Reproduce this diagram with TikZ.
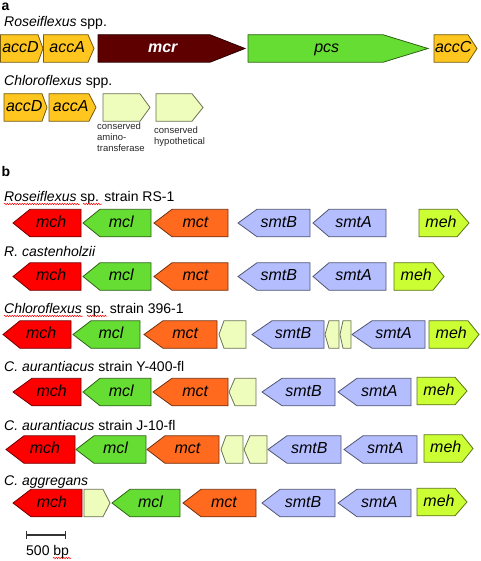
\documentclass[tikz,border=0pt]{standalone}
\usepackage{fontspec}
\setmainfont{Liberation Sans}
\usetikzlibrary{arrows.meta,decorations.pathmorphing}

\definecolor{accD}{HTML}{FFC61F}
\definecolor{accA}{HTML}{FFC61F}
\definecolor{accC}{HTML}{FFC61F}
\definecolor{mcr}{HTML}{5E0000}
\definecolor{pcs}{HTML}{66DD33}
\definecolor{hypo}{HTML}{EEFDBB}
\definecolor{mch}{HTML}{FF0000}
\definecolor{mcl}{HTML}{66DD33}
\definecolor{mct}{HTML}{FF6A1E}
\definecolor{smtB}{HTML}{B4BEFF}
\definecolor{smtA}{HTML}{B4BEFF}
\definecolor{meh}{HTML}{CCFF33}

\pgfmathsetmacro{\halfh}{13.75}

\tikzset{
    genetext/.style={font=\fontsize{16}{18}\selectfont\itshape, inner sep=0pt, text height=11pt, text depth=3pt},
    rowlabel/.style={font=\fontsize{14}{16}\selectfont, anchor=base west, inner sep=0pt},
    panel/.style={rowlabel, font=\fontsize{14}{16}\selectfont\bfseries},
    notetext/.style={font=\fontsize{9.5}{11}\selectfont, text=black!85, anchor=north west, inner sep=0pt, align=left},
    spell/.style={red, line width=0.5pt, decorate, decoration={snake, amplitude=0.7pt, segment length=2.5pt}}
}

% gene boxes: colour, y, then x of flat end / body end / tip
\newcommand{\geneboxr}[5]{%
    \filldraw[fill=#1, draw=#1!45!black, line width=0.8pt, line join=miter]
        (#3,#2-\halfh) -- (#4,#2-\halfh) -- (#5,#2) -- (#4,#2+\halfh) -- (#3,#2+\halfh) -- cycle;
}
\newcommand{\geneboxl}[5]{%
    \filldraw[fill=#1, draw=#1!45!black, line width=0.8pt, line join=miter]
        (#3,#2) -- (#4,#2-\halfh) -- (#5,#2-\halfh) -- (#5,#2+\halfh) -- (#4,#2+\halfh) -- cycle;
}
% named genes: name, colour, y, x values, label
\newcommand{\generight}[7]{%
    \geneboxr{#2}{#3}{#4}{#5}{#6}
    \node[genetext] (#1) at ({(2*#4+#5+#6)/4},#3) {#7};
}
\newcommand{\geneleft}[7]{%
    \geneboxl{#2}{#3}{#4}{#5}{#6}
    \node[genetext] (#1) at ({(#4+#5+2*#6)/4},#3) {#7};
}

\begin{document}
\begin{tikzpicture}[x=1pt, y=-1pt]
            \useasboundingbox (0,0) rectangle (480,561);

            % panel a
            \node[panel] (pa) at (1.5,11) {a};
            \node[rowlabel] (rosa) at (4,27) {\textit{Roseiflexus} spp.};
            \foreach \n/\s/\b/\t in {accD/0.5/38/43, accA/43.5/88/94, pcs/248/383/428, accC/434/468/477}{
                \generight{a1\n}{\n}{48.5}{\s}{\b}{\t}{\n}
            }
            \generight{a1mcr}{mcr}{48.5}{98}{210}{245}{\textcolor{white}{\bfseries mcr}}

            \node[rowlabel] (chla) at (4,86) {\textit{Chloroflexus} spp.};
            \foreach \n/\s/\b/\t in {accD/4/42/47, accA/49/89/96}{
                \generight{a2\n}{\n}{107.5}{\s}{\b}{\t}{\n}
            }
            \geneboxr{hypo}{107.5}{103}{140}{150}
            \geneboxr{hypo}{107.5}{156}{192}{203}
            \node[notetext] (amino) at (97,122) {conserved\\amino-\\transferase};
            \node[notetext] (hypnote) at (154,126) {conserved\\hypothetical};

            % panel b
            \node[panel] (pb) at (1.5,177) {b};
            \node[rowlabel] (rs1) at (4,201.5) {\textit{Roseiflexus} sp. strain RS-1};
            \node[rowlabel] (cast) at (4,256.5) {\textit{R. castenholzii}};
            \foreach \r/\y in {1/223, 2/276.5}{
                \foreach \n/\t/\b/\e in {mch/13/30/81, mcl/83/100/151, mct/154/172/228, smtB/238/257/310, smtA/313/329/386}{
                    \geneleft{b\r\n}{\n}{\y}{\t}{\b}{\e}{\n}
                }
            }
            \generight{b1meh}{meh}{223}{419}{457}{469}{meh}
            \generight{b2meh}{meh}{276.5}{394}{433}{444}{meh}

            \node[rowlabel] (c396) at (4,313.5) {\textit{Chloroflexus} sp. strain 396-1};
            \foreach \n/\t/\b/\e in {mch/3/20/71, mcl/73/91/140, mct/144/163/217, smtB/252/272/324, smtA/352/372/425}{
                \geneleft{b3\n}{\n}{334.5}{\t}{\b}{\e}{\n}
            }
            \foreach \t/\b/\e in {219/224/246, 325/329/339, 340/343/351}{
                \geneboxl{hypo}{334.5}{\t}{\b}{\e}
            }
            \generight{b3meh}{meh}{334.5}{429}{468}{479}{meh}

            \node[rowlabel] (y400) at (4,371.5) {\textit{C. aurantiacus} strain Y-400-fl};
            \foreach \n/\t/\b/\e in {mch/13/32/81, mcl/83/100/151, mct/153/172/228, smtB/262/282/335, smtA/338/357/411}{
                \geneleft{b4\n}{\n}{392}{\t}{\b}{\e}{\n}
            }
            \geneboxl{hypo}{392}{229}{235}{256}
            \generight{b4meh}{meh}{391}{417}{455}{467}{meh}

            \node[rowlabel] (j10) at (4,430.5) {\textit{C. aurantiacus} strain J-10-fl};
            \foreach \n/\t/\b/\e in {mch/6/24/75, mcl/76/94/146, mct/147/165/219, smtB/268/287/341, smtA/344/363/417}{
                \geneleft{b5\n}{\n}{449.5}{\t}{\b}{\e}{\n}
            }
            \foreach \t/\b/\e in {221/226/243, 244/250/267}{
                \geneboxl{hypo}{449.5}{\t}{\b}{\e}
            }
            \generight{b5meh}{meh}{448.5}{424}{462}{473}{meh}

            \node[rowlabel] (aggr) at (4,485.5) {\textit{C. aggregans}};
            \foreach \n/\t/\b/\e in {mch/13/31/82, mcl/112/130/180, mct/183/201/256, smtB/262/280/335, smtA/338/357/411}{
                \geneleft{b6\n}{\n}{503}{\t}{\b}{\e}{\n}
            }
            \geneboxr{hypo}{503}{84}{103}{110}
            \generight{b6meh}{meh}{502}{417}{455}{467}{meh}

            % spell-check marks
            \draw[spell] (4,204) -- (80,204);
            \draw[spell] (83,204) -- (102,204);
            \draw[spell] (4,316) -- (83,316);
            \draw[spell] (87,316) -- (107,316);
            \draw[spell] (53,558) -- (71,558);

            % scale bar
            \coordinate (bar0) at (26,535);
            \coordinate (bar1) at (66,535);
            \draw[{Bar[width=8pt]}-{Bar[width=8pt]}, line width=1.2pt, black!80] (bar0) -- (bar1);
            \node[rowlabel] (barlab) at (26,555.5) {500 bp};
        \end{tikzpicture}
\end{document}
